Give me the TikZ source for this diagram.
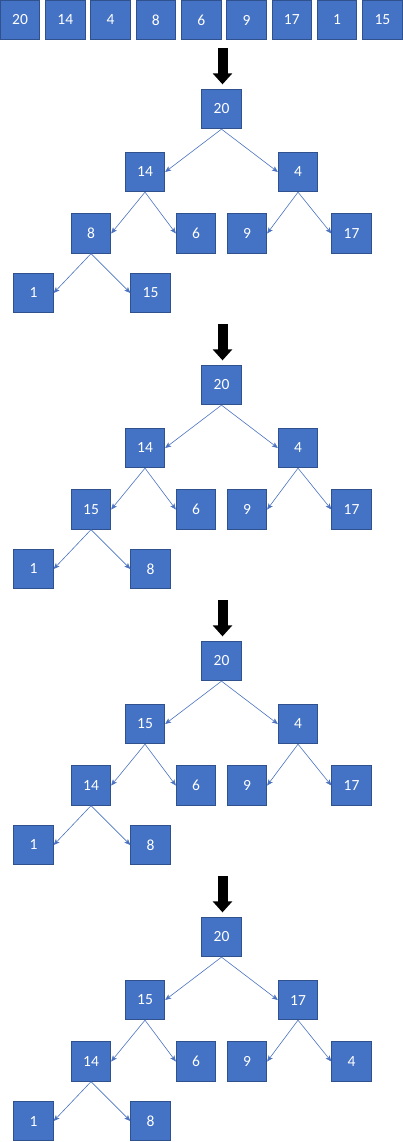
\documentclass[tikz,border=0pt]{standalone}
\usepackage{fontspec}
\setmainfont{Carlito}
\usetikzlibrary{arrows.meta}
\definecolor{boxfill}{HTML}{4472C4}
\definecolor{boxline}{HTML}{2F528F}
\definecolor{linkcol}{HTML}{4A72C0}
\begin{document}
\begin{tikzpicture}[x=1pt,y=-1pt,
  box/.style={draw=boxline, line width=0.8pt, fill=boxfill, minimum width=39.5pt, minimum height=39.5pt, inner sep=0pt, text=white, font=\fontsize{15.5}{17}\selectfont},
  link/.style={draw=linkcol, line width=0.6pt, -{Stealth[length=6pt,width=5pt,inset=1.5pt]}},
  bigarrow/.style={line width=10pt, draw=black, -{Triangle[length=11pt,width=19pt]}, shorten >=4.5pt}]
\useasboundingbox (0,0) rectangle (403,1142);
% top row
\foreach \v [count=\n from 0] in {20,14,4,8,6,9,17,1,15}
  \node[box] (top\n) at ({20+45.3*\n},20) {\v};
% trees
\foreach \k/\a/\b/\c/\d/\e/\f/\g/\h/\i in {
  0/20/14/4/8/6/9/17/1/15,
  1/20/14/4/15/6/9/17/1/8,
  2/20/15/4/14/6/9/17/1/8,
  3/20/15/17/14/6/9/4/1/8}{
  \pgfmathsetmacro{\dy}{276*\k}
  \coordinate (arr\k) at (222.5,48+\dy);
  \node[box] (r\k) at (221.5,109+\dy) {\a};
  \node[box] (p\k) at (145,172+\dy) {\b};
  \node[box] (q\k) at (298,172+\dy) {\c};
  \node[box] (pa\k) at (91,233.5+\dy) {\d};
  \node[box] (pb\k) at (196,233.5+\dy) {\e};
  \node[box] (qa\k) at (247,233.5+\dy) {\f};
  \node[box] (qb\k) at (351.5,233.5+\dy) {\g};
  \node[box] (la\k) at (33.5,293+\dy) {\h};
  \node[box] (lb\k) at (150.5,293+\dy) {\i};
  \draw[bigarrow] (arr\k) -- (arr\k |- r\k.north);
  \draw[link] (r\k.south) -- (p\k.east);
  \draw[link] (r\k.south) -- (q\k.west);
  \draw[link] (p\k.south) -- (pa\k.east);
  \draw[link] (p\k.south) -- (pb\k.west);
  \draw[link] (q\k.south) -- (qa\k.east);
  \draw[link] (q\k.south) -- (qb\k.west);
  \draw[link] (pa\k.south) -- (la\k.east);
  \draw[link] (pa\k.south) -- (lb\k.west);
}
\end{tikzpicture}
\end{document}
